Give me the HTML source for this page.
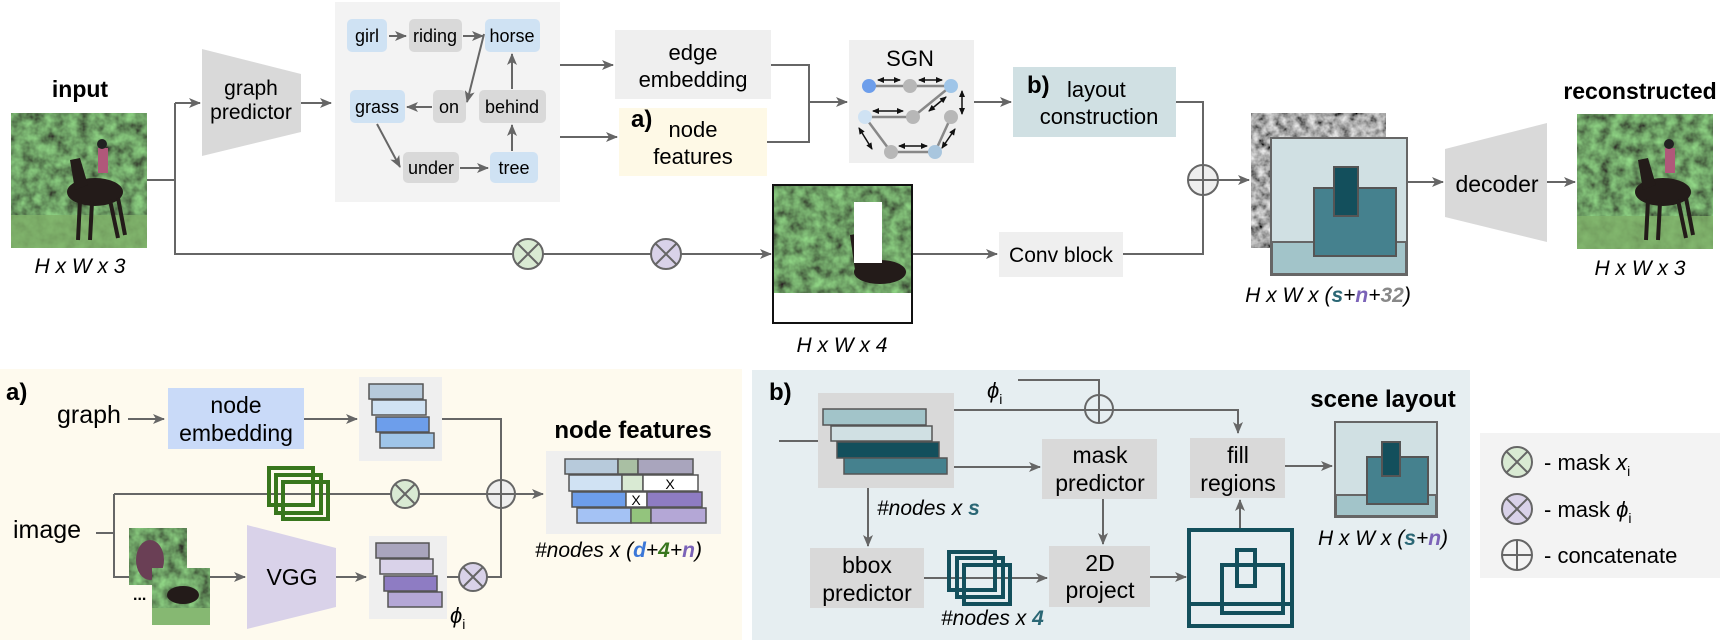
<!DOCTYPE html>
<html><head><meta charset="utf-8"><style>
html,body{margin:0;padding:0;background:#fff}
svg{display:block;font-family:"Liberation Sans",Arial,sans-serif}
</style></head><body>
<svg width="1724" height="644" viewBox="0 0 1724 644" xmlns="http://www.w3.org/2000/svg">
<defs>
<marker id="a" markerWidth="12" markerHeight="10" refX="11" refY="5" orient="auto" markerUnits="userSpaceOnUse"><path d="M0,0 L12,5 L0,10 L3,5 z" fill="#666"/></marker>
<marker id="k" markerWidth="7" markerHeight="6" refX="6" refY="3" orient="auto-start-reverse" markerUnits="userSpaceOnUse"><path d="M0,0 L7,3 L0,6 z" fill="#111"/></marker>
<filter id="fol" x="0" y="0" width="1" height="1"><feTurbulence type="fractalNoise" baseFrequency="0.09" numOctaves="3" seed="3"/><feColorMatrix type="matrix" values="0.35 0 0 0 -0.02  0.9 0 0 0 -0.1  0.3 0 0 0 -0.02  0 0 0 0 1"/></filter>
<filter id="gry" x="0" y="0" width="1" height="1"><feTurbulence type="fractalNoise" baseFrequency="0.12" numOctaves="3" seed="7"/><feColorMatrix type="matrix" values="1.3 0 0 0 -0.25  1.3 0 0 0 -0.25  1.3 0 0 0 -0.25  0 0 0 0 1"/></filter>
</defs>
<g fill="none" stroke="#666" stroke-width="2">
<path d="M147,180 H175 M175,103 V254 H512"/>
<path d="M175,103 H200" marker-end="url(#a)"/>
<path d="M543,254 H651 M681,254 H771" />
<path d="M700,254 H771" marker-end="url(#a)"/>
<path d="M301,103 H331" marker-end="url(#a)"/>
<path d="M560,65 H613" marker-end="url(#a)"/>
<path d="M560,137 H617" marker-end="url(#a)"/>
<path d="M771,65 H809 V142 H767"/>
<path d="M809,102 H847" marker-end="url(#a)"/>
<path d="M974,102 H1011" marker-end="url(#a)"/>
<path d="M1176,102 H1203 V165 M1123,254 H1203 V195"/>
<path d="M1218,180 H1249" marker-end="url(#a)"/>
<path d="M912,254 H997" marker-end="url(#a)"/>
<path d="M1407,182 H1443" marker-end="url(#a)"/>
<path d="M1547,182 H1575" marker-end="url(#a)"/>
</g>

<g>
<rect x="11" y="113" width="136" height="135" filter="url(#fol)"/>
<rect x="11" y="215" width="136" height="33" fill="#7fb069" opacity="0.8"/>
<ellipse cx="95" cy="192" rx="28" ry="14" fill="#231b19"/>
<path d="M75,190 L70,160 L80,158 L88,185 Z" fill="#231b19"/>
<path d="M80,200 L78,240 M92,202 L90,240 M110,200 L118,238 M118,198 L125,235" stroke="#231b19" stroke-width="4"/>
<rect x="98" y="148" width="10" height="25" fill="#b0587a"/>
<circle cx="102" cy="144" r="5" fill="#222"/>
</g>
<text x="80" y="97" font-size="23" font-weight="bold" text-anchor="middle">input</text>
<text x="80" y="273" font-size="21" font-style="italic" text-anchor="middle">H x W x 3</text>

<polygon points="202,49 301,74 301,132 202,156" fill="#d9d9d9"/>
<text x="251" y="95" font-size="21" text-anchor="middle">graph</text>
<text x="251" y="119" font-size="21" text-anchor="middle">predictor</text>

<rect x="335" y="2" width="225" height="200" fill="#f3f3f3"/>
<g font-size="18" text-anchor="middle">
<rect x="347" y="19" width="40" height="33" rx="5" fill="#cfe2f3"/><text x="367" y="42">girl</text>
<rect x="409" y="19" width="53" height="33" rx="5" fill="#d9d9d9"/><text x="435" y="42">riding</text>
<rect x="485" y="19" width="55" height="33" rx="5" fill="#cfe2f3"/><text x="512" y="42">horse</text>
<rect x="350" y="90" width="55" height="33" rx="5" fill="#cfe2f3"/><text x="377" y="113">grass</text>
<rect x="433" y="90" width="33" height="33" rx="5" fill="#d9d9d9"/><text x="449" y="113">on</text>
<rect x="479" y="90" width="67" height="33" rx="5" fill="#d9d9d9"/><text x="512" y="113">behind</text>
<rect x="403" y="152" width="56" height="31" rx="5" fill="#d9d9d9"/><text x="431" y="174">under</text>
<rect x="490" y="152" width="48" height="31" rx="5" fill="#cfe2f3"/><text x="514" y="174">tree</text>
</g>
<g fill="none" stroke="#666" stroke-width="2">
<path d="M389,36 H406" marker-end="url(#a)"/>
<path d="M463,36 H483" marker-end="url(#a)"/>
<path d="M484,34 L467,102" marker-end="url(#a)"/>
<path d="M432,107 H407" marker-end="url(#a)"/>
<path d="M377,124 L400,167" marker-end="url(#a)"/>
<path d="M460,168 H488" marker-end="url(#a)"/>
<path d="M512,151 V125" marker-end="url(#a)"/>
<path d="M512,89 V54" marker-end="url(#a)"/>
</g>

<rect x="615" y="30" width="156" height="69" fill="#efefef"/>
<text x="693" y="60" font-size="22" text-anchor="middle">edge</text>
<text x="693" y="87" font-size="22" text-anchor="middle">embedding</text>
<rect x="619" y="108" width="148" height="68" fill="#fef9e6"/>
<text x="631" y="127" font-size="24" font-weight="bold">a)</text>
<text x="693" y="137" font-size="22" text-anchor="middle">node</text>
<text x="693" y="164" font-size="22" text-anchor="middle">features</text>

<rect x="849" y="40" width="125" height="123" fill="#efefef"/>
<text x="910" y="66" font-size="22" text-anchor="middle">SGN</text>
<g stroke="#888" stroke-width="2.5" fill="none">
<path d="M869,86 H951 M865,117 H913 L951,86 M891,152 H935 L951,117 M865,117 L891,152"/>
</g>
<g stroke="#111" stroke-width="1.5" fill="none">
<path d="M878,80 H900" marker-start="url(#k)" marker-end="url(#k)"/>
<path d="M919,80 H942" marker-start="url(#k)" marker-end="url(#k)"/>
<path d="M873,111 H903" marker-start="url(#k)" marker-end="url(#k)"/>
<path d="M899,146 H927" marker-start="url(#k)" marker-end="url(#k)"/>
<path d="M962,91 V114" marker-start="url(#k)" marker-end="url(#k)"/>
<path d="M929,111 L946,97" marker-start="url(#k)" marker-end="url(#k)"/>
<path d="M859,128 L872,149" marker-start="url(#k)" marker-end="url(#k)"/>
<path d="M942,148 L955,129" marker-start="url(#k)" marker-end="url(#k)"/>
</g>
<circle cx="869" cy="86" r="7" fill="#6d9eeb"/>
<circle cx="910" cy="86" r="7" fill="#b7b7b7"/>
<circle cx="951" cy="86" r="7" fill="#9fc5e8"/>
<circle cx="865" cy="117" r="7" fill="#cfe2f3"/>
<circle cx="913" cy="117" r="7" fill="#b7b7b7"/>
<circle cx="951" cy="117" r="7" fill="#b7b7b7"/>
<circle cx="891" cy="152" r="7" fill="#b7b7b7"/>
<circle cx="935" cy="152" r="7" fill="#a9c6de"/>

<rect x="1013" y="67" width="163" height="70" fill="#d0e0e3"/>
<text x="1027" y="93" font-size="24" font-weight="bold">b)</text>
<text x="1067" y="97" font-size="22">layout</text>
<text x="1099" y="124" font-size="22" text-anchor="middle">construction</text>

<circle cx="1203" cy="180" r="15" fill="#eeeeee" stroke="#666" stroke-width="2"/>
<path d="M1188,180 H1218 M1203,165 V195" stroke="#666" stroke-width="2"/>

<g>
<rect x="773" y="185" width="139" height="138" filter="url(#fol)"/>
<ellipse cx="880" cy="272" rx="26" ry="12" fill="#231b19"/>
<path d="M855,270 L850,235 L862,233 L870,262 Z" fill="#231b19"/>
<rect x="854" y="202" width="28" height="61" fill="#fff"/>
<rect x="774" y="293" width="138" height="30" fill="#fff"/>
<rect x="773" y="185" width="139" height="138" fill="none" stroke="#111" stroke-width="2"/>
</g>
<text x="842" y="352" font-size="21" font-style="italic" text-anchor="middle">H x W x 4</text>

<circle cx="528" cy="254" r="15" fill="#d9ead3" stroke="#666" stroke-width="2"/>
<path d="M517,243 L539,265 M539,243 L517,265" stroke="#666" stroke-width="2"/>
<circle cx="666" cy="254" r="15" fill="#d9d2e9" stroke="#666" stroke-width="2"/>
<path d="M655,243 L677,265 M677,243 L655,265" stroke="#666" stroke-width="2"/>

<rect x="999" y="232" width="124" height="45" fill="#efefef"/>
<text x="1061" y="262" font-size="21" text-anchor="middle">Conv block</text>

<rect x="1251" y="113" width="135" height="135" filter="url(#gry)"/>
<rect x="1271" y="138" width="136" height="137" fill="#d0e0e3" stroke="#666" stroke-width="2"/>
<rect x="1272" y="242" width="134" height="32" fill="#a2c4c9" stroke="#666" stroke-width="2"/>
<rect x="1314" y="188" width="82" height="68" fill="#45818e" stroke="#555" stroke-width="2"/>
<rect x="1334" y="167" width="24" height="49" fill="#134f5c" stroke="#555" stroke-width="2"/>
<text x="1328" y="302" font-size="21" font-style="italic" text-anchor="middle">H x W x (<tspan font-weight="bold" fill="#2b6775">s</tspan>+<tspan font-weight="bold" fill="#7b63b8">n</tspan>+<tspan font-weight="bold" fill="#888">32</tspan>)</text>

<polygon points="1445,149 1547,123 1547,242 1445,217" fill="#d9d9d9"/>
<text x="1497" y="192" font-size="23" text-anchor="middle">decoder</text>

<g>
<rect x="1577" y="114" width="136" height="135" filter="url(#fol)"/>
<rect x="1577" y="216" width="136" height="33" fill="#7fb069" opacity="0.8"/>
<ellipse cx="1663" cy="192" rx="28" ry="14" fill="#231b19"/>
<path d="M1643,190 L1638,160 L1648,158 L1656,185 Z" fill="#231b19"/>
<path d="M1648,200 L1646,240 M1660,202 L1658,240 M1678,200 L1686,238 M1686,198 L1693,235" stroke="#231b19" stroke-width="4"/>
<rect x="1665" y="148" width="10" height="25" fill="#b0587a"/>
<circle cx="1669" cy="144" r="5" fill="#222"/>
</g>
<text x="1640" y="99" font-size="23" font-weight="bold" text-anchor="middle">reconstructed</text>
<text x="1640" y="275" font-size="21" font-style="italic" text-anchor="middle">H x W x 3</text>

<rect x="0" y="369" width="742" height="271" fill="#fefaee"/>
<text x="6" y="400" font-size="24" font-weight="bold">a)</text>
<text x="57" y="423" font-size="25">graph</text>
<rect x="168" y="388" width="136" height="61" fill="#c9daf8"/>
<text x="236" y="413" font-size="23" text-anchor="middle">node</text>
<text x="236" y="441" font-size="23" text-anchor="middle">embedding</text>
<text x="13" y="538" font-size="25">image</text>
<g fill="none" stroke="#666" stroke-width="2">
<path d="M128,419 H164" marker-end="url(#a)"/>
<path d="M304,419 H357" marker-end="url(#a)"/>
<path d="M442,419 H501 V480"/>
<path d="M96,533 H114 M114,494 V577 H129 M114,494 H391 M419,494 H487"/>
<path d="M515,494 H543" marker-end="url(#a)"/>
<path d="M210,577 H245" marker-end="url(#a)"/>
<path d="M336,577 H366" marker-end="url(#a)"/>
<path d="M447,577 H459 M487,577 H501 V508"/>
</g>
<rect x="359" y="377" width="83" height="84" fill="#efefef"/>
<g stroke="#555" stroke-width="1.5">
<rect x="369" y="384" width="54" height="15" fill="#b7cadb"/>
<rect x="372" y="400" width="54" height="15" fill="#d0e2f3"/>
<rect x="376" y="417" width="53" height="15" fill="#6d9eeb"/>
<rect x="380" y="433" width="54" height="15" fill="#9fc5e8"/>
</g>
<g fill="none" stroke="#38761d" stroke-width="4">
<rect x="269" y="468" width="44" height="37"/>
<rect x="276" y="475" width="45" height="38"/>
<rect x="283" y="482" width="45" height="37"/>
</g>
<circle cx="405" cy="494" r="14" fill="#d9ead3" stroke="#666" stroke-width="2"/>
<path d="M395,484 L415,504 M415,484 L395,504" stroke="#666" stroke-width="2"/>
<circle cx="501" cy="494" r="14" fill="#eeeeee" stroke="#666" stroke-width="2"/>
<path d="M487,494 H515 M501,480 V508" stroke="#666" stroke-width="2"/>
<rect x="129" y="528" width="58" height="57" filter="url(#fol)"/>
<ellipse cx="150" cy="560" rx="14" ry="20" fill="#6a3f55"/>
<rect x="152" y="568" width="58" height="57" filter="url(#fol)"/>
<rect x="152" y="608" width="58" height="17" fill="#86b872"/>
<ellipse cx="183" cy="595" rx="16" ry="9" fill="#231b19"/>
<text x="133" y="600" font-size="16" font-weight="bold">...</text>
<polygon points="247,525 336,548 336,607 247,629" fill="#d9d2e9"/>
<text x="292" y="585" font-size="23" text-anchor="middle">VGG</text>
<rect x="369" y="536" width="78" height="83" fill="#efefef"/>
<g stroke="#555" stroke-width="1.5">
<rect x="376" y="543" width="53" height="15" fill="#a9a5bd"/>
<rect x="380" y="559" width="53" height="15" fill="#d9d2e9"/>
<rect x="384" y="576" width="53" height="15" fill="#8e7cc3"/>
<rect x="388" y="592" width="54" height="15" fill="#b4a7d6"/>
</g>
<text x="450" y="623" font-size="22" font-style="italic">ϕ<tspan font-size="14" font-style="normal" dy="6">i</tspan></text>
<circle cx="473" cy="577" r="14" fill="#d9d2e9" stroke="#666" stroke-width="2"/>
<path d="M463,567 L483,587 M483,567 L463,587" stroke="#666" stroke-width="2"/>
<text x="633" y="438" font-size="24" font-weight="bold" text-anchor="middle">node features</text>
<rect x="546" y="451" width="175" height="83" fill="#efefef"/>
<g stroke="#555" stroke-width="1.5">
<rect x="565" y="459" width="53" height="15" fill="#b7cadb"/><rect x="618" y="459" width="20" height="15" fill="#a9bfa3"/><rect x="638" y="459" width="55" height="15" fill="#a9a5bd"/>
<rect x="569" y="475" width="53" height="16" fill="#d0e2f3"/><rect x="622" y="475" width="21" height="16" fill="#d9ead3"/><rect x="643" y="475" width="55" height="16" fill="#fff"/>
<rect x="572" y="492" width="54" height="15" fill="#6d9eeb"/><rect x="626" y="492" width="21" height="15" fill="#fff"/><rect x="647" y="492" width="55" height="15" fill="#8e7cc3"/>
<rect x="577" y="508" width="54" height="15" fill="#a4c2f4"/><rect x="631" y="508" width="20" height="15" fill="#93c47d"/><rect x="651" y="508" width="55" height="15" fill="#b4a7d6"/>
</g>
<text x="670" y="489" font-size="14" text-anchor="middle">X</text>
<text x="636" y="505" font-size="14" text-anchor="middle">X</text>
<text x="535" y="557" font-size="21" font-style="italic">#nodes x (<tspan font-weight="bold" fill="#3c78d8">d</tspan>+<tspan font-weight="bold" fill="#38761d">4</tspan>+<tspan font-weight="bold" fill="#7b63b8">n</tspan>)</text>

<rect x="752" y="370" width="718" height="270" fill="#e6eef1"/>
<text x="769" y="400" font-size="24" font-weight="bold">b)</text>
<g fill="none" stroke="#666" stroke-width="2">
<path d="M779,441 H818"/>
<path d="M1018,380 H1099 V395"/>
<path d="M954,410 H1238 V433" marker-end="url(#a)"/>
<path d="M954,467 H1040" marker-end="url(#a)"/>
<path d="M1285,466 H1332" marker-end="url(#a)"/>
<path d="M868,488 V546" marker-end="url(#a)"/>
<path d="M924,578 H1047" marker-end="url(#a)"/>
<path d="M1103,499 V544" marker-end="url(#a)"/>
<path d="M1150,577 H1186" marker-end="url(#a)"/>
<path d="M1240,530 V500" marker-end="url(#a)"/>
</g>
<rect x="818" y="393" width="136" height="95" fill="#d9d9d9"/>
<g stroke="#555" stroke-width="1.5">
<rect x="823" y="409" width="103" height="16" fill="#a2c4c9"/>
<rect x="831" y="426" width="101" height="15" fill="#d0e0e3"/>
<rect x="837" y="442" width="102" height="16" fill="#134f5c"/>
<rect x="844" y="458" width="103" height="16" fill="#45818e"/>
</g>
<text x="987" y="398" font-size="22" font-style="italic">ϕ<tspan font-size="14" font-style="normal" dy="6">i</tspan></text>
<circle cx="1099" cy="409" r="14" fill="none" stroke="#666" stroke-width="2"/>
<path d="M1099,395 V423" stroke="#666" stroke-width="2"/>
<rect x="1042" y="439" width="115" height="60" fill="#d9d9d9"/>
<text x="1100" y="463" font-size="23" text-anchor="middle">mask</text>
<text x="1100" y="491" font-size="23" text-anchor="middle">predictor</text>
<rect x="1190" y="438" width="95" height="60" fill="#d9d9d9"/>
<text x="1238" y="463" font-size="23" text-anchor="middle">fill</text>
<text x="1238" y="491" font-size="23" text-anchor="middle">regions</text>
<text x="1383" y="407" font-size="24" font-weight="bold" text-anchor="middle">scene layout</text>
<rect x="1335" y="422" width="102" height="95" fill="#d0e0e3" stroke="#666" stroke-width="2"/>
<rect x="1336" y="495" width="100" height="21" fill="#a2c4c9" stroke="#666" stroke-width="2"/>
<rect x="1367" y="457" width="61" height="47" fill="#45818e" stroke="#555" stroke-width="2"/>
<rect x="1382" y="442" width="18" height="34" fill="#134f5c" stroke="#555" stroke-width="2"/>
<text x="1383" y="545" font-size="21" font-style="italic" text-anchor="middle">H x W x (<tspan font-weight="bold" fill="#2b6775">s</tspan>+<tspan font-weight="bold" fill="#7b63b8">n</tspan>)</text>
<text x="877" y="515" font-size="21" font-style="italic">#nodes x <tspan font-weight="bold" fill="#2b6775">s</tspan></text>
<rect x="810" y="548" width="114" height="60" fill="#d9d9d9"/>
<text x="867" y="573" font-size="23" text-anchor="middle">bbox</text>
<text x="867" y="601" font-size="23" text-anchor="middle">predictor</text>
<g fill="none" stroke="#134f5c" stroke-width="4">
<rect x="949" y="552" width="46" height="38"/>
<rect x="957" y="558" width="46" height="39"/>
<rect x="964" y="565" width="46" height="39"/>
</g>
<text x="941" y="625" font-size="21" font-style="italic">#nodes x <tspan font-weight="bold" fill="#2b6775">4</tspan></text>
<rect x="1049" y="546" width="101" height="61" fill="#d9d9d9"/>
<text x="1100" y="571" font-size="23" text-anchor="middle">2D</text>
<text x="1100" y="598" font-size="23" text-anchor="middle">project</text>
<g fill="none" stroke="#134f5c" stroke-width="4">
<rect x="1189" y="530" width="103" height="96"/>
<path d="M1189,604 H1292"/>
<rect x="1222" y="565" width="61" height="48"/>
<rect x="1237" y="550" width="18" height="36"/>
</g>

<rect x="1480" y="433" width="240" height="145" fill="#f3f3f3"/>
<circle cx="1517" cy="462" r="15" fill="#d9ead3" stroke="#666" stroke-width="2"/>
<path d="M1506,451 L1528,473 M1528,451 L1506,473" stroke="#666" stroke-width="2"/>
<circle cx="1517" cy="509" r="15" fill="#d9d2e9" stroke="#666" stroke-width="2"/>
<path d="M1506,498 L1528,520 M1528,498 L1506,520" stroke="#666" stroke-width="2"/>
<circle cx="1517" cy="555" r="15" fill="none" stroke="#666" stroke-width="2"/>
<path d="M1502,555 H1532 M1517,540 V570" stroke="#666" stroke-width="2"/>
<text x="1544" y="470" font-size="22">-  mask <tspan font-style="italic">x</tspan><tspan font-size="14" dy="6">i</tspan></text>
<text x="1544" y="517" font-size="22">-  mask <tspan font-style="italic">ϕ</tspan><tspan font-size="14" dy="6">i</tspan></text>
<text x="1544" y="563" font-size="22">-  concatenate</text>
</svg>
</body></html>
